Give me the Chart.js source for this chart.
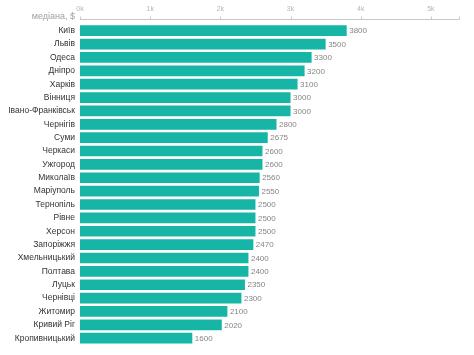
<!DOCTYPE html>
<html><head><meta charset="utf-8">
<script src="https://cdn.jsdelivr.net/npm/chart.js@4/dist/chart.umd.min.js"></script>
<style>html,body{margin:0;padding:0;background:#fff;}#wrap{width:474px;height:355px;}</style>
</head><body><div id="wrap"><canvas id="c"></canvas></div>
<script>
const cities = ['Київ','Львів','Одеса','Дніпро','Харків','Вінниця','Івано-Франківськ','Чернігів','Суми','Черкаси','Ужгород','Миколаїв','Маріуполь','Тернопіль','Рівне','Херсон','Запоріжжя','Хмельницький','Полтава','Луцьк','Чернівці','Житомир','Кривий Ріг','Кропивницький'];
const medianSalary = [3800,3500,3300,3200,3100,3000,3000,2800,2675,2600,2600,2560,2550,2500,2500,2500,2470,2400,2400,2350,2300,2100,2020,1600];
const axisTicks = [0,1000,2000,3000,4000,5000,5400];
const axisTitle = 'медіана, $';
const FONT = '"Liberation Sans Narrow", "Liberation Sans", sans-serif';

const overlay = {
  id:'overlay',
  afterDatasetsDraw(chart){
    const ctx = chart.ctx, xs = chart.scales.x;
    ctx.save();
    const ay = 19.5;
    ctx.strokeStyle = '#c8c8c8'; ctx.lineWidth = 1;
    ctx.beginPath(); ctx.moveTo(xs.getPixelForValue(0), ay); ctx.lineTo(xs.getPixelForValue(5400), ay); ctx.stroke();
    axisTicks.forEach(v=>{ const px = Math.round(xs.getPixelForValue(v))+0.5; ctx.beginPath(); ctx.moveTo(px, ay-3); ctx.lineTo(px, ay); ctx.stroke(); });
    ctx.fillStyle = '#a0a0a0'; ctx.font = '9px ' + FONT; ctx.textAlign='right'; ctx.textBaseline='middle';
    ctx.fillText(axisTitle, 75, 17);
    const meta = chart.getDatasetMeta(0);
    ctx.fillStyle = '#858585'; ctx.font = '8px ' + FONT; ctx.textAlign='left';
    meta.data.forEach((bar,i)=>{ ctx.fillText(String(medianSalary[i]), bar.x+2.5, bar.y+0.5); });
    ctx.restore();
  }
};

new Chart(document.getElementById('c'), {
  type:'bar',
  data:{ labels: cities, datasets:[{ data: medianSalary, backgroundColor:'#17b5a5', borderWidth:0, barPercentage:0.8, categoryPercentage:1 }]},
  options:{
    indexAxis:'y', responsive:true, maintainAspectRatio:false, animation:false,
    layout:{ padding:{left:0,right:15,top:0,bottom:1} },
    plugins:{ legend:{display:false}, tooltip:{enabled:false} },
    scales:{
      x:{ position:'top', min:0, max:5400,
          afterBuildTicks(s){ s.ticks = axisTicks.map(v=>({value:v})); },
          afterFit(s){ s.height = 24; },
          grid:{display:false, drawTicks:false}, border:{display:false},
          ticks:{ padding:11, color:'#b5b5b5', font:{family:FONT, size:7}, maxRotation:0, autoSkip:false,
                  callback(v){ return v===5400 ? '' : (v/1000)+'k'; } } },
      y:{ afterFit(s){ s.width = 80; },
          grid:{display:false, drawTicks:false}, border:{display:false},
          ticks:{ padding:5, color:'#333', font:{family:FONT, size:8.5}, autoSkip:false } }
    }
  },
  plugins:[overlay]
});
</script></body></html>
